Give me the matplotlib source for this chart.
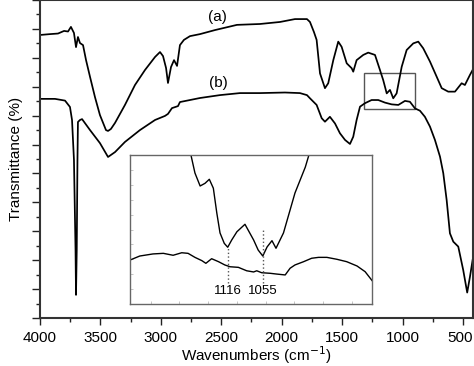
import matplotlib
matplotlib.use("Agg")
import matplotlib.pyplot as plt
from matplotlib.patches import Rectangle
from matplotlib.ticker import MultipleLocator, NullFormatter
import matplotlib.transforms as mtransforms

plt.rcParams['font.family'] = ['Liberation Sans', 'DejaVu Sans']

# ---- main spectrum (a) ----
wn_a = [4000, 3917, 3851, 3801, 3768, 3744, 3719, 3702, 3686, 3669, 3644, 3619, 3586, 3545,
        3504, 3454, 3437, 3413, 3379, 3297, 3214, 3131, 3048, 3007, 2982, 2957, 2941, 2916,
        2891, 2866, 2842, 2809, 2759, 2676, 2552, 2370, 2180, 2014, 1890, 1791, 1766, 1733,
        1711, 1683, 1642, 1615, 1573, 1532, 1504, 1462, 1421, 1408, 1380, 1325, 1284, 1228,
        1187, 1160, 1131, 1104, 1077, 1049, 1007, 966, 911, 870, 829, 773, 718, 676, 622,
        566, 511, 484, 442, 420]
t_a = [97.9, 98.2, 98.4, 99.3, 99.1, 100.7, 98.6, 93.7, 97.2, 95.1, 94.4, 89.2, 83.4, 76.4,
       70.2, 65.0, 64.7, 65.4, 67.5, 73.7, 80.6, 85.8, 90.3, 92.0, 90.6, 86.5, 81.3, 86.8,
       89.2, 87.2, 94.4, 96.2, 97.5, 98.2, 99.6, 101.4, 101.7, 102.4, 103.4, 103.4, 102.4, 98.9,
       96.2, 84.6, 79.5, 81.2, 89.2, 95.6, 93.8, 88.1, 86.4, 85.2, 89.2, 91.0, 91.8, 91.0,
       85.8, 82.3, 77.7, 78.9, 76.0, 77.7, 86.9, 92.7, 95.0, 95.6, 93.3, 88.7, 83.5, 79.5, 78.3,
       78.3, 81.2, 80.6, 84.1, 85.8]

# ---- main spectrum (b) ----
wn_b = [4000, 3876, 3793, 3752, 3735, 3719, 3706, 3702, 3696, 3690, 3686, 3669, 3652, 3586,
        3504, 3437, 3379, 3297, 3173, 3048, 2966, 2941, 2908, 2858, 2842, 2676, 2511, 2345,
        2180, 1973, 1849, 1791, 1766, 1711, 1669, 1642, 1601, 1559, 1518, 1476, 1435, 1408,
        1380, 1352, 1311, 1256, 1201, 1145, 1090, 1035, 980, 939, 897, 856, 815, 773, 732,
        690, 663, 635, 608, 580, 539, 498, 465, 442, 420]
t_b = [75.8, 75.8, 75.2, 73.0, 68.5, 54.7, 23.5, 8.0, 23.5, 54.7, 67.8, 68.5, 68.8, 65.0,
       60.5, 55.7, 57.4, 60.9, 65.0, 68.5, 69.9, 70.6, 72.6, 73.3, 74.7, 76.1, 77.1, 77.8,
       77.8, 78.0, 77.8, 77.1, 76.0, 73.7, 69.1, 67.9, 69.6, 67.3, 63.9, 61.6, 60.2, 62.7,
       68.5, 73.1, 74.3, 75.4, 75.4, 74.5, 73.9, 73.7, 75.1, 74.8, 72.5, 71.7, 69.6, 66.2, 61.6,
       55.8, 50.1, 40.8, 29.3, 26.4, 24.7, 16.6, 8.8, 14.3, 20.1]

# ---- inset (expanded 1290-865 cm-1 region) ----
wn_ia = [1183, 1180, 1173, 1164, 1155.5, 1148, 1141, 1135, 1129.4, 1122, 1116, 1109, 1100,
         1086, 1071, 1063, 1055, 1047.5, 1039, 1032, 1019, 1007.5, 999, 990, 981, 975.6, 972.6]
t_ia = [110, 100, 87.9, 79.2, 81.0, 83.7, 77.7, 61.1, 47.7, 40.7, 38.1, 43.0, 48.5,
        53.5, 43.0, 36.2, 32.2, 38.3, 42.5, 37.4, 47.7, 63.1, 74.5, 83.2, 91.9, 98.9, 103]
wn_ib = [1286, 1269, 1246, 1228, 1211, 1196, 1185, 1173, 1161, 1154, 1144, 1132, 1121, 1112,
         1097.5, 1083, 1071, 1065.5, 1057, 1042, 1031, 1016, 1007.5, 999, 984, 970, 958, 943.5,
         926, 909, 891, 877, 862]
t_ib = [29.5, 32.2, 33.6, 34.0, 32.7, 34.4, 34.0, 31.3, 29.1, 27.3, 30.4, 28.4, 26.2, 25.0,
        24.6, 22.3, 21.5, 22.3, 21.0, 20.6, 20.1, 19.5, 24.0, 26.2, 28.4, 30.7, 31.3, 31.3,
        30.0, 28.4, 25.5, 21.7, 14.3]
peaks = [1116, 1055]
peak_labels = ["1116", "1055"]
peak_tops = [38.1, 50.3]

# zoom box on main plot
box_wn = [1317, 897]
box_t = [72.2, 84.9]

fig = plt.figure(figsize=(4.74, 3.66), dpi=100)
ax = fig.add_axes([40/474, 48/366, 433/474, 318/366])
ax.plot(wn_a, t_a, color='black', lw=1.25)
ax.plot(wn_b, t_b, color='black', lw=1.25)
ax.set_xlim(4000, 417)
ax.set_ylim(0, 110)
ax.xaxis.set_major_locator(MultipleLocator(500))
ax.xaxis.set_minor_locator(MultipleLocator(250))
ax.yaxis.set_major_locator(MultipleLocator(10))
ax.yaxis.set_minor_locator(MultipleLocator(5))
ax.yaxis.set_major_formatter(NullFormatter())
ax.tick_params(which='major', direction='out', length=6, width=1, labelsize=11, pad=4, color='#222222')
ax.tick_params(axis='x', which='major', length=5)
ax.tick_params(which='minor', direction='out', length=3, width=1, color='#222222')
for s in ax.spines.values():
    s.set_linewidth(1.5)
    s.set_color('#333333')
ax.set_xlabel('Wavenumbers (cm$^{-1}$)', fontsize=11, labelpad=0)
ax.set_ylabel('Transmittance (%)', fontsize=11, labelpad=2)
ax.text(2535, 104.1, '(a)', fontsize=11, ha='center', va='center')
ax.text(2527, 81.3, '(b)', fontsize=11, ha='center', va='center')
ax.add_patch(Rectangle((box_wn[0], box_t[0]), box_wn[1] - box_wn[0], box_t[1] - box_t[0],
                       fill=False, edgecolor='#555555', lw=1.0))

# nudge the last x tick label so it stays inside the figure
fig.canvas.draw()
labels = ax.get_xticklabels()
shift = mtransforms.ScaledTranslation(-3/100, 0, fig.dpi_scale_trans)
for lab in labels:
    if lab.get_text() == '500':
        lab.set_transform(lab.get_transform() + shift)

# inset
axi = fig.add_axes([130/474, 62/366, 242/474, 149/366])
axi.plot(wn_ia, t_ia, color='black', lw=1.0)
axi.plot(wn_ib, t_ib, color='black', lw=1.0)
axi.set_xlim(1286, 865)
axi.set_ylim(0, 100)
for p, lab, top in zip(peaks, peak_labels, peak_tops):
    axi.plot([p, p], [14, top], color='#555555', lw=1.0, ls=':')
    axi.text(p, 8.7, lab, fontsize=9.5, ha='center', va='center')
axi.xaxis.set_major_locator(MultipleLocator(50))
axi.yaxis.set_major_locator(MultipleLocator(10))
axi.xaxis.set_major_formatter(NullFormatter())
axi.yaxis.set_major_formatter(NullFormatter())
axi.tick_params(direction='in', length=2.5, width=0.6, color='#bbbbbb')
for s in axi.spines.values():
    s.set_linewidth(1.0)
    s.set_color('#666666')

fig.savefig('out.png', dpi=100)
